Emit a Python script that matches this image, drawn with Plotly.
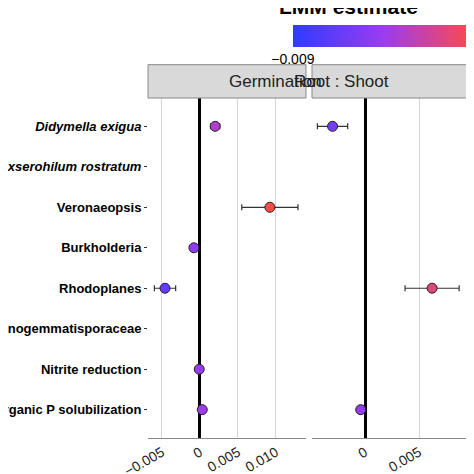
import plotly.graph_objects as go

taxa = ["Didymella exigua", "Exserohilum rostratum", "Veronaeopsis", "Burkholderia",
        "Rhodoplanes", "Ktedonogemmatisporaceae", "Nitrite reduction", "Organic P solubilization"]
italic = [True, True, False, False, False, False, False, False]

germ_taxa = ["Didymella exigua", "Veronaeopsis", "Burkholderia", "Rhodoplanes",
             "Nitrite reduction", "Organic P solubilization"]
germ_est = [0.0020, 0.0092, -0.0008, -0.0046, -0.0001, 0.0003]
germ_err = [0.0006, 0.0037, 0.0002, 0.0014, 0.0002, 0.0002]

rs_taxa = ["Didymella exigua", "Rhodoplanes", "Organic P solubilization"]
rs_est = [-0.0030, 0.0062, -0.0004]
rs_err = [0.0014, 0.0025, 0.0001]

labels = [f"<b><i>{t}</i></b>" if it else f"<b>{t}</b>" for t, it in zip(taxa, italic)]
lab = dict(zip(taxa, labels))

cscale = [[0, "#2f3bff"], [0.5, "#9a3cf0"], [1, "#ff4a4a"]]
cmin, cmax = -0.009, 0.009

fig = go.Figure()
for i, (tx, est, err) in enumerate([(germ_taxa, germ_est, germ_err), (rs_taxa, rs_est, rs_err)]):
    fig.add_trace(go.Scatter(
        x=est, y=[lab[t] for t in tx], mode="markers",
        xaxis="x" if i == 0 else "x2", yaxis="y",
        error_x=dict(type="data", array=err, color="#333", thickness=1.2, width=3),
        marker=dict(size=10, color=est, colorscale=cscale, cmin=cmin, cmax=cmax,
                    line=dict(color="#222", width=1),
                    showscale=(i == 0),
                    colorbar=dict(orientation="h", xref="container", yref="container",
                                  x=0.823, xanchor="left", y=0.985, yanchor="top",
                                  len=200, lenmode="pixels", thickness=22, tickvals=[-0.009, 0, 0.009],
                                  ticktext=["−0.009", "0.00", "0.009"], ticks="",
                                  tickfont=dict(size=14, color="black", family="Liberation Sans"),
                                  outlinewidth=0)),
        showlegend=False))

xcommon = dict(showgrid=True, gridcolor="#d6d6d6", zeroline=True, zerolinecolor="black",
               zerolinewidth=2.5, showline=True, linecolor="#888", mirror=True, tickangle=-30,
               tickfont=dict(size=14, color="#222", family="Liberation Sans"), ticks="",
               automargin=False)
fig.update_layout(
    width=474, height=474, plot_bgcolor="white", paper_bgcolor="white",
    margin=dict(l=140, r=0, t=90, b=44),
    xaxis=dict(domain=[0, 0.473], range=[-0.00684, 0.01395],
               tickvals=[-0.005, 0, 0.005, 0.010], ticktext=["−0.005", "0", "0.005", "0.010"], **xcommon),
    xaxis2=dict(domain=[0.491, 0.964], range=[-0.0049, 0.0097],
                tickvals=[0, 0.005], ticktext=["0", "0.005"], **xcommon),
    xaxis3=dict(domain=[0.976, 1], range=[0, 1], showticklabels=False, showgrid=False,
                showline=True, linecolor="#888", mirror=True, anchor="y"),
    yaxis=dict(categoryorder="array", categoryarray=labels[::-1], range=[-0.7, 7.7],
               type="category", automargin=False, ticks="outside", ticklen=3, tickcolor="#333",
               tickfont=dict(size=13, color="black", family="Liberation Sans"), showgrid=False),
)
# facet strips
for x0, x1, name in [(0, 0.473, "Germination"), (0.491, 0.964, "Root : Shoot"), (0.976, 1, "")]:
    fig.add_shape(type="rect", xref="paper", yref="paper", x0=x0, x1=x1, y0=1.0, y1=1.098,
                  fillcolor="#d9d9d9", line=dict(color="#888", width=1))
    if name:
        fig.add_annotation(x=(x0 + x1) / 2, y=1.049, xref="paper", yref="paper", text=name,
                           showarrow=False, yanchor="middle",
                           font=dict(size=17, color="#222", family="Liberation Sans"))
fig.add_annotation(x=0.6, y=1.27, xref="paper", yref="paper", text="<b>LMM estimate</b>",
                   showarrow=False, xanchor="center", yanchor="middle",
                   font=dict(size=21, color="black", family="Liberation Sans"))
fig.write_html("out.html")
